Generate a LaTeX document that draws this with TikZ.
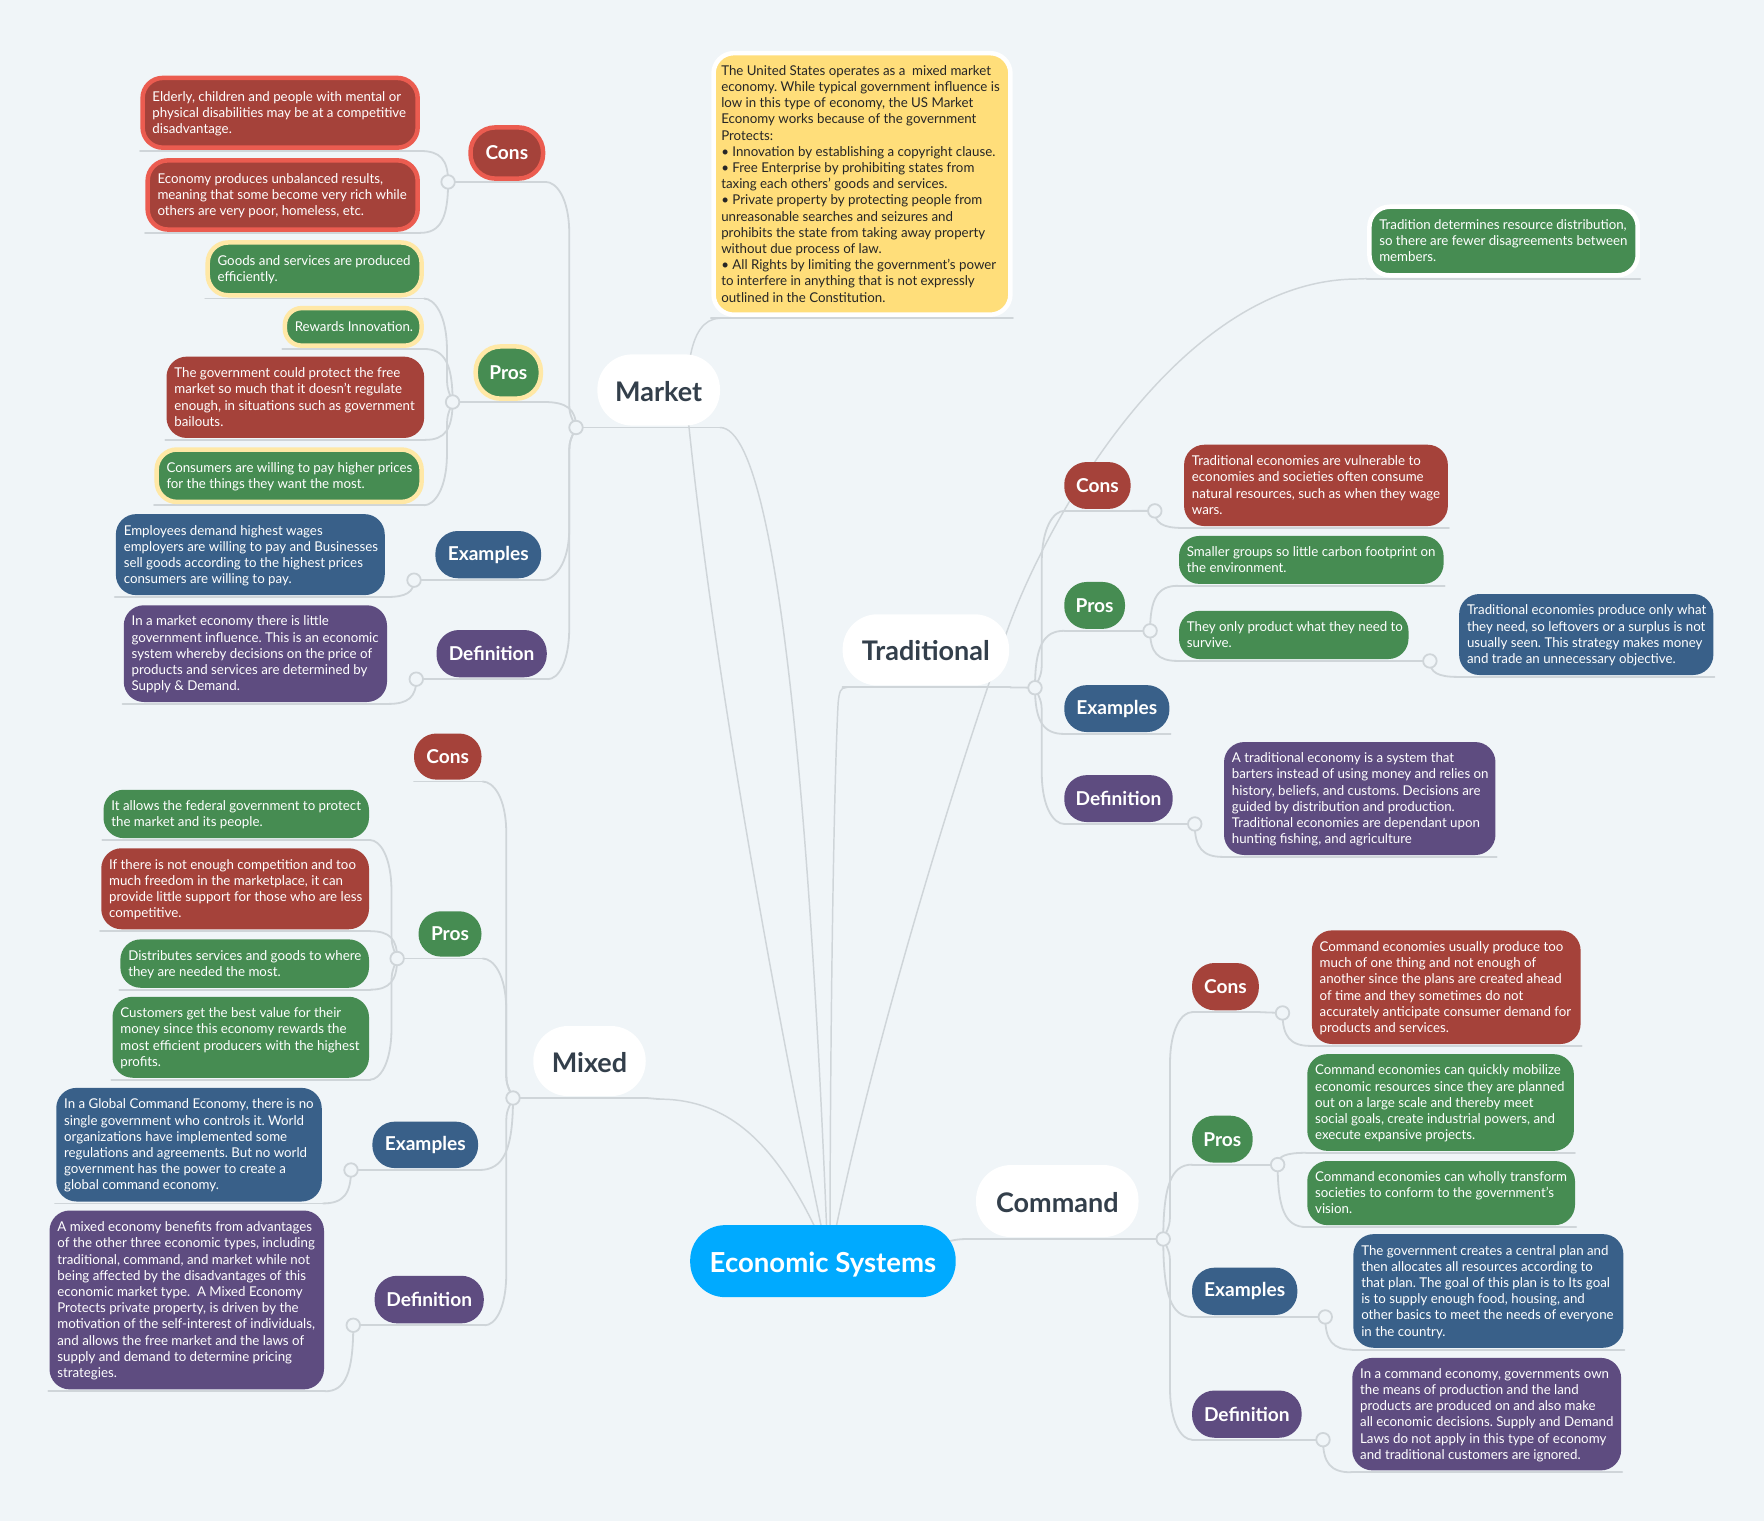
\documentclass[tikz,border=0pt]{standalone}
\usepackage{fontspec}
\setmainfont{Lato}
\usetikzlibrary{calc}
\pgfdeclarelayer{bg}
\pgfsetlayers{bg,main}
\definecolor{bgc}{HTML}{F0F5F8}
\definecolor{linec}{HTML}{CFD5D9}
\definecolor{redc}{HTML}{A5423A}
\definecolor{redb}{HTML}{EB5C50}
\definecolor{greenc}{HTML}{468C52}
\definecolor{yelb}{HTML}{FFE8A6}
\definecolor{bluec}{HTML}{396089}
\definecolor{purc}{HTML}{5E4C80}
\definecolor{cenc}{HTML}{00AAFF}
\definecolor{yelc}{HTML}{FFDE7A}
\definecolor{darkc}{HTML}{333F4B}
\tikzset{
  conn/.style={draw=linec,line width=1.6pt,line cap=round},
  thinconn/.style={draw=linec,line width=1.3pt,line cap=round},
  hub/.style={circle,draw=linec,fill=bgc,line width=1.6pt,minimum size=12pt,inner sep=0pt},
  boxbase/.style={rectangle,rounded corners=18pt,inner sep=0pt,text=white},
  redbox/.style={boxbase,fill=redc},
  redbd/.style={boxbase,fill=redc,draw=redb,line width=4pt},
  greenbox/.style={boxbase,fill=greenc},
  greenbd/.style={boxbase,fill=greenc,draw=yelb,line width=4pt},
  bluebox/.style={boxbase,fill=bluec},
  purbox/.style={boxbase,fill=purc},
  whitebd/.style={boxbase,fill=greenc,draw=white,line width=4pt},
  yelbox/.style={boxbase,fill=yelc,draw=white,line width=4pt,text=black!85},
  mainbox/.style={boxbase,rounded corners=31pt,fill=white,text=darkc,font=\fontsize{24}{28}\selectfont\bfseries},
  cenbox/.style={boxbase,rounded corners=31pt,fill=cenc,text=white,font=\fontsize{24.5}{28}\selectfont\bfseries},
  brfont/.style={font=\fontsize{17}{20}\selectfont\bfseries,rounded corners=20pt},
}
\newcommand{\down}[2]{\raisebox{-#1}[\height][\depth]{#2}}
\newcommand{\bleaf}[8][0]{%
  \pgfmathsetmacro\bw{#5-#3-(#1>0?2.5:0)}\pgfmathsetmacro\bh{#6-#4-(#1>0?2.5:0)}\pgfmathsetmacro\tw{#5-#3-14-1.5*#1}%
  \node[#7,minimum width=\bw pt,minimum height=\bh pt] (#2) at ({(#3+#5)/2},{(#4+#6)/2})
    {\down{1.3pt}{\makebox[\tw pt][l]{\fontsize{12}{14.4}\selectfont\frenchspacing\addfontfeature{FakeStretch=0.985}\begin{tabular}{@{}l@{}}#8\end{tabular}}}};
  \coordinate (#2-l) at (#3-1,#6+1.7);
  \coordinate (#2-r) at (#5+1,#6+1.7);
  \begin{pgfonlayer}{bg}\draw[conn] (#2-l) -- (#2-r);\end{pgfonlayer}
}
\newcommand{\bran}[8][0]{%
  \pgfmathsetmacro\bw{#5-#3-(#1>0?2.5:0)}\pgfmathsetmacro\bh{#6-#4-(#1>0?2.5:0)}%
  \node[#7,minimum width=\bw pt,minimum height=\bh pt] (#2) at ({(#3+#5)/2},{(#4+#6)/2}) {#8};
  \coordinate (#2-l) at (#3,#6+1.7);
  \coordinate (#2-r) at (#5+1,#6+1.7);
  \begin{pgfonlayer}{bg}\draw[conn] (#2-l) -- (#2-r);\end{pgfonlayer}
}
\newcommand{\hubat}[3]{\node[hub] (#1) at (#2,#3) {};}
\newcommand{\elbow}[2]{\begin{pgfonlayer}{bg}\draw[conn] (#1.center) .. controls ($(#1.center)!0.72!(#1.center|-#2)$) and ($(#2)!0.72!(#1.center|-#2)$) .. (#2);\end{pgfonlayer}}
% long elbow: leaves the hub, runs straight at a small x offset, rounds into the target
\newcommand{\selbow}[3]{\begin{pgfonlayer}{bg}\draw[conn] (#1.center)
   .. controls ($(#1.center)!13pt!(#1.center|-#2)+(#3pt,0)$) .. ($(#1.center)!26pt!(#1.center|-#2)+(#3pt,0)$)
   -- ($(#1.center|-#2)!46pt!(#1.center)+(#3pt,0)$)
   .. controls ($(#1.center|-#2)!14pt!(#1.center)+(#3pt,0)$) and ($(#2)!0.35!(#1.center|-#2)$) .. (#2);\end{pgfonlayer}}
\newcommand{\hln}[2]{\begin{pgfonlayer}{bg}\draw[conn] (#1.center) -- (#2);\end{pgfonlayer}}
\begin{document}
\begin{tikzpicture}[x=1pt,y=-1pt]
\useasboundingbox (0,0) rectangle (1568,1352);
\begin{pgfonlayer}{bg}\fill[bgc] (0,0) rectangle (1568,1352);\end{pgfonlayer}

% main nodes
\node[cenbox,minimum width=236pt,minimum height=64pt] (cen) at (731.5,1121) {\down{3pt}{Economic Systems}};
\bran{market}{531}{315}{640}{378.3}{mainbox}{\down{1pt}{Market}}
\bran{trad}{749}{546}{897}{609.3}{mainbox}{\down{1pt}{Traditional}}
\bran{mixed}{474}{912}{574}{974.3}{mainbox}{\down{1pt}{Mixed}}
\bran{command}{867.6}{1035.6}{1012}{1099.6}{mainbox}{\down{1pt}{Command}}
\hubat{hM}{512}{380}
\hubat{hT}{920}{611.3}
\hubat{hX}{456}{976}
\hubat{hC}{1034}{1101.3}
\coordinate (cA) at (730.4,1092);
\coordinate (cB) at (734.8,1092);
\coordinate (cC) at (725,1092);
\coordinate (cD) at (737.8,1092);
\coordinate (cE) at (743,1092);
\coordinate (cF) at (845,1103);

% notes
\bleaf[1.5]{note}{633}{46}{899.4}{281}{yelbox}{The United States operates as a~ mixed market\\economy. While typical government influence is\\low in this type of economy, the US Market\\Economy works because of the government\\Protects:\\• Innovation by establishing a copyright clause.\\• Free Enterprise by prohibiting states from\\taxing each others’ goods and services.\\• Private property by protecting people from\\unreasonable searches and seizures and\\prohibits the state from taking away property\\without due process of law.\\• All Rights by limiting the government's power\\to interfere in anything that is not expressly\\outlined in the Constitution.}
\bleaf[4]{tnote}{1216}{182.5}{1457}{246}{whitebd}{Tradition determines resource distribution,\\so there are fewer disagreements between\\members.}

% Market
\bran[4]{mcons}{417}{112}{484}{160}{redbd,brfont,rounded corners=22pt}{Cons}
\bran[4]{mpros}{421.6}{306.7}{482}{355.6}{greenbd,brfont,rounded corners=22pt}{Pros}
\bran{mexam}{387}{472}{481}{514}{bluebox,brfont}{Examples}
\bran{mdef}{388}{560}{486}{602}{purbox,brfont}{Definition}
\hubat{hmc}{398.3}{161.7}
\hubat{hmp}{402.3}{357.3}
\hubat{hme}{368}{515.7}
\hubat{hmd}{370}{603.7}
\bleaf[4]{mc1}{125.5}{68}{372.5}{132.5}{redbd}{Elderly, children and people with mental or\\physical disabilities may be at a competitive\\disadvantage.}
\bleaf[4]{mc2}{130}{141.3}{372.5}{205.3}{redbd}{Economy produces unbalanced results,\\meaning that some become very rich while\\others are very poor, homeless, etc.}
\bleaf[4]{mp1}{183.4}{214.3}{376}{263.7}{greenbd}{Goods and services are produced\\efficiently.}
\bleaf[4]{mp2}{252}{272.6}{376}{308.5}{greenbd,rounded corners=15pt}{Rewards Innovation.}
\bleaf{mp3}{148}{317}{377}{389.3}{redbox}{The government could protect the free\\market so much that it doesn’t regulate\\enough, in situations such as government\\bailouts.}
\bleaf[4]{mp4}{138}{398.3}{376}{447.4}{greenbd}{Consumers are willing to pay higher prices\\for the things they want the most.}
\bleaf{me1}{103}{457}{342}{529}{bluebox}{Employees demand highest wages\\employers are willing to pay and Businesses\\sell goods according to the highest prices\\consumers are willing to pay.}
\bleaf{md1}{110}{538}{344}{624}{purbox}{In a market economy there is little\\government influence. This is an economic\\system whereby decisions on the price of\\products and services are determined by\\Supply \& Demand.}

% Mixed
\bran{xcons}{368}{652}{428}{693}{redbox,brfont}{Cons}
\bran{xpros}{372}{810}{428}{850.3}{greenbox,brfont}{Pros}
\bran{xexam}{331}{997}{425}{1038.3}{bluebox,brfont}{Examples}
\bran{xdef}{333}{1134}{430}{1176.3}{purbox,brfont}{Definition}
\hubat{hxp}{353}{852}
\hubat{hxe}{312}{1040}
\hubat{hxd}{314}{1178}
\bleaf{xp1}{92}{702}{328}{745}{greenbox}{It allows the federal government to protect\\the market and its people.}
\bleaf{xp2}{90}{754}{328}{826}{redbox}{If there is not enough competition and too\\much freedom in the marketplace, it can\\provide little support for those who are less\\competitive.}
\bleaf{xp3}{107}{835}{328}{878}{greenbox}{Distributes services and goods to where\\they are needed the most.}
\bleaf{xp4}{100}{886}{328}{958}{greenbox}{Customers get the best value for their\\money since this economy rewards the\\most efficient producers with the highest\\profits.}
\bleaf{xe1}{50}{967}{286}{1068}{bluebox}{In a Global Command Economy, there is no\\single government who controls it. World\\organizations have implemented some\\regulations and agreements. But no world\\government has the power to create a\\global command economy.}
\bleaf{xd1}{44}{1076}{288}{1235}{purbox}{A mixed economy benefits from advantages\\of the other three economic types, including\\traditional, command, and market while not\\being affected by the disadvantages of this\\economic market type.~ A Mixed Economy\\Protects private property, is driven by the\\motivation of the self-interest of individuals,\\and allows the free market and the laws of\\supply and demand to determine pricing\\strategies.}

% Traditional
\bran{tcons}{946}{410.7}{1005}{452.4}{redbox,brfont}{Cons}
\bran{tpros}{946}{517.3}{1000}{559}{greenbox,brfont}{Pros}
\bran{texam}{946}{609}{1039.5}{650.7}{bluebox,brfont}{Examples}
\bran{tdef}{946}{689}{1042.4}{730.7}{purbox,brfont}{Definition}
\hubat{htc}{1026.5}{454.1}
\hubat{htp}{1022.3}{560.7}
\hubat{htd}{1062}{732.4}
\hubat{htq}{1271}{587.5}
\bleaf{tc1}{1052.5}{395.3}{1287}{467.6}{redbox}{Traditional economies are vulnerable to\\economies and societies often consume\\natural resources, such as when they wage\\wars.}
\bleaf{tp1}{1048}{476.4}{1283.2}{519}{greenbox}{Smaller groups so little carbon footprint on\\the environment.}
\bleaf{tp2}{1048}{543}{1252}{585.8}{greenbox}{They only product what they need to\\survive.}
\bleaf{tq1}{1297}{528}{1523}{600}{bluebox}{Traditional economies produce only what\\they need, so leftovers or a surplus is not\\usually seen. This strategy makes money\\and trade an unnecessary objective.}
\bleaf{td1}{1088}{659.6}{1329.3}{760}{purbox}{A traditional economy is a system that\\barters instead of using money and relies on\\history, beliefs, and customs. Decisions are\\guided by distribution and production.\\Traditional economies are dependant upon\\hunting fishing, and agriculture}

% Command
\bran{ccons}{1059.6}{856}{1119}{898}{redbox,brfont}{Cons}
\bran{cpros}{1059.6}{991.7}{1113.5}{1033.5}{greenbox,brfont}{Pros}
\bran{cexam}{1059.6}{1126.8}{1153.2}{1168.9}{bluebox,brfont}{Examples}
\bran{cdef}{1059.6}{1236}{1157}{1278}{purbox,brfont}{Definition}
\hubat{hcc}{1140}{900.4}
\hubat{hcp}{1135.7}{1035.2}
\hubat{hce}{1178}{1170.6}
\hubat{hcd}{1176}{1279.7}
\bleaf{cc1}{1166}{827}{1405}{928}{redbox}{Command economies usually produce too\\much of one thing and not enough of\\another since the plans are created ahead\\of time and they sometimes do not\\accurately anticipate consumer demand for\\products and services.}
\bleaf{cp1}{1162}{937}{1399}{1023}{greenbox}{Command economies can quickly mobilize\\economic resources since they are planned\\out on a large scale and thereby meet\\social goals, create industrial powers, and\\execute expansive projects.}
\bleaf{cp2}{1162}{1032}{1400}{1089}{greenbox}{Command economies can wholly transform\\societies to conform to the government's\\vision.}
\bleaf{ce1}{1203}{1097}{1443}{1198}{bluebox}{The government creates a central plan and\\then allocates all resources according to\\that plan. The goal of this plan is to Its goal\\is to supply enough food, housing, and\\other basics to meet the needs of everyone\\in the country.}
\bleaf{cd1}{1202}{1207}{1441}{1307}{purbox}{In a command economy, governments own\\the means of production and the land\\products are produced on and also make\\all economic decisions. Supply and Demand\\Laws do not apply in this type of economy\\and traditional customers are ignored.}

% connectors
\begin{pgfonlayer}{bg}
\draw[thinconn] (cA) .. controls (690,900) and (635,600) .. (612.4,379) .. controls (609,340) and (610,283) .. (640,283) -- (note-l);
\draw[thinconn] (cB) .. controls (725,850) and (700,380) .. (640,380);
\draw[conn] (640,380) -- (market-r);
\draw[conn] (market-l) -- (hM.center);
\draw[thinconn] (cC) .. controls (690,1020) and (650,977) .. (586,977);
\draw[conn] (586,977) -- (mixed-r);
\draw[conn] (mixed-l) -- (hX.center);
\draw[thinconn] (cD) .. controls (738,920) and (741,700) .. (745,625) .. controls (746,615) and (747,611.2) .. (752,611.2) -- (trad-l);
\draw[conn] (trad-r) -- (hT.center);
\draw[thinconn] (cE) .. controls (770,960) and (832,740) .. (894.8,562) .. controls (930,462) and (1050,248) .. (1207,248) -- (tnote-l);
\draw[conn] (cF) .. controls (852,1101.3) and (855,1101.3) .. (command-l);
\draw[conn] (command-r) -- (hC.center);
\end{pgfonlayer}
% Market tree
\selbow{hM}{mcons-r}{-6}\elbow{hM}{mpros-r}\selbow{hM}{mexam-r}{-6}\selbow{hM}{mdef-r}{-6}
\hln{hmc}{mcons-l}\hln{hmp}{mpros-l}\hln{hme}{mexam-l}\hln{hmd}{mdef-l}
\elbow{hmc}{mc1-r}\elbow{hmc}{mc2-r}
\selbow{hmp}{mp1-r}{-5}\elbow{hmp}{mp2-r}\elbow{hmp}{mp3-r}\selbow{hmp}{mp4-r}{-5}
\elbow{hme}{me1-r}\elbow{hmd}{md1-r}
% Mixed tree
\selbow{hX}{xcons-r}{-6}\selbow{hX}{xpros-r}{-6}\elbow{hX}{xexam-r}\selbow{hX}{xdef-r}{-6}
\hln{hxp}{xpros-l}\hln{hxe}{xexam-l}\hln{hxd}{xdef-l}
\selbow{hxp}{xp1-r}{-5}\elbow{hxp}{xp2-r}\elbow{hxp}{xp3-r}\selbow{hxp}{xp4-r}{-5}
\elbow{hxe}{xe1-r}\elbow{hxd}{xd1-r}
% Traditional tree
\selbow{hT}{tcons-l}{6}\elbow{hT}{tpros-l}\elbow{hT}{texam-l}\selbow{hT}{tdef-l}{6}
\hln{htc}{tcons-r}\hln{htp}{tpros-r}\hln{htd}{tdef-r}
\elbow{htc}{tc1-l}\elbow{htp}{tp1-l}\elbow{htp}{tp2-l}\elbow{htd}{td1-l}
\hln{htq}{tp2-r}\elbow{htq}{tq1-l}
% Command tree
\selbow{hC}{ccons-l}{6}\elbow{hC}{cpros-l}\elbow{hC}{cexam-l}\selbow{hC}{cdef-l}{6}
\hln{hcc}{ccons-r}\hln{hcp}{cpros-r}\hln{hce}{cexam-r}\hln{hcd}{cdef-r}
\elbow{hcc}{cc1-l}\elbow{hcp}{cp1-l}\elbow{hcp}{cp2-l}\elbow{hce}{ce1-l}\elbow{hcd}{cd1-l}
\end{tikzpicture}
\end{document}
